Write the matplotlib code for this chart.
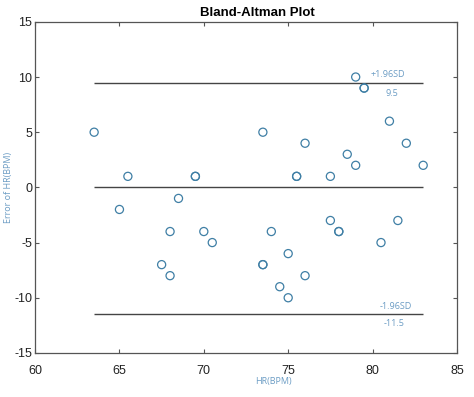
import matplotlib.pyplot as plt

plt.rcParams["axes.unicode_minus"] = False

# Mean HR (x) and error (y) for each measurement; repeated pairs kept twice
hr_mean = [63.5, 65.5, 65.0, 68.5, 69.5, 69.5, 68.0, 67.5, 68.0, 70.0,
           70.5, 73.5, 73.5, 73.5, 74.0, 74.5, 75.0, 75.0, 75.5, 75.5,
           76.0, 76.0, 77.5, 77.5, 78.0, 78.0, 78.5, 79.0, 79.0, 79.5,
           79.5, 81.0, 80.5, 81.5, 82.0, 83.0]
hr_error = [5, 1, -2, -1, 1, 1, -4, -7, -8, -4,
            -5, 5, -7, -7, -4, -9, -6, -10, 1, 1,
            4, -8, 1, -3, -4, -4, 3, 2, 10, 9,
            9, 6, -5, -3, 4, 2]

# upper limit, centre, lower limit
limit_values = [9.5, 0, -11.5]
limit_names = ["+1.96SD", "-1.96SD"]

fig = plt.figure(figsize=(4.74, 3.97), dpi=100)
ax = fig.add_axes([0.074, 0.111, 0.890, 0.834])

ax.scatter(hr_mean, hr_error, s=34, facecolors="none",
           edgecolors="#3f7fa5", linewidths=0.9, zorder=3)

for v in limit_values:
    ax.hlines(v, min(hr_mean), max(hr_mean), color="#444444", linewidth=1.0)

txt_color = "#6b9cc4"
ax.text(80.9, 10.25, limit_names[0], color=txt_color, fontsize=6.5,
        ha="center", va="center", family="Open Sans")
ax.text(81.15, 8.5, f"{limit_values[0]:g}", color=txt_color, fontsize=6.5,
        ha="center", va="center", family="Open Sans")
ax.text(81.35, -10.8, limit_names[1], color=txt_color, fontsize=6.5,
        ha="center", va="center", family="Open Sans")
ax.text(81.3, -12.3, f"{limit_values[2]:g}", color=txt_color, fontsize=6.5,
        ha="center", va="center", family="Open Sans")

ax.set_xlim(60, 85)
ax.set_ylim(-15, 15)
ax.set_xticks([60, 65, 70, 75, 80, 85])
ax.set_yticks([-15, -10, -5, 0, 5, 10, 15])
ax.tick_params(direction="in", length=3, width=0.8, top=True, right=True,
               labelsize=9, colors="#555555", labelcolor="#222222")
ax.tick_params(axis="x", pad=9)
ax.tick_params(axis="y", pad=2)
for s in ax.spines.values():
    s.set_color("#555555")
    s.set_linewidth(0.9)
for lbl in ax.get_xticklabels() + ax.get_yticklabels():
    lbl.set_family("Liberation Sans")

ax.set_title("Bland-Altman Plot", fontsize=9.5, fontweight="bold",
             family="Liberation Sans", x=0.526, pad=4)
ax.set_xlabel("HR(BPM)", color=txt_color, fontsize=6.5, family="Open Sans")
ax.set_ylabel("Error of HR(BPM)", color=txt_color, fontsize=6.5,
              family="Open Sans")
ax.xaxis.set_label_coords(0.566, -0.072)
ax.yaxis.set_label_coords(-0.052, 0.5)

fig.savefig("out.png", dpi=100)
